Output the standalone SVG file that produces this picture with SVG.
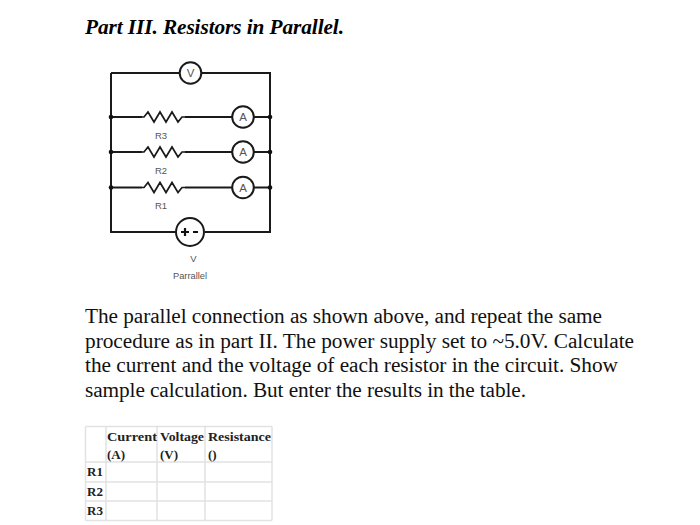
<svg xmlns="http://www.w3.org/2000/svg" width="700" height="525" viewBox="0 0 700 525">
<style>
.w{fill:none;stroke:#1a1a1a;stroke-width:2}
.r{fill:none;stroke:#1a1a1a;stroke-width:1.7;stroke-linejoin:miter}
.c{fill:#fff;stroke:#1a1a1a;stroke-width:2}
.d{fill:#111}
.l{font-family:"Liberation Sans",Arial,sans-serif;font-size:9.500px;fill:#555;text-anchor:middle}
.s{font-family:"Liberation Sans",Arial,sans-serif;font-size:11.500px;fill:#555;text-anchor:middle}
.b{font-family:"Liberation Serif","Times New Roman",serif;font-size:21.300px;fill:#111}
.t{font-family:"Liberation Serif","Times New Roman",serif;font-size:13px;font-weight:bold;fill:#222}
.g{stroke:#e2e2e2;stroke-width:1.5;fill:none}
</style>
<rect width="700" height="525" fill="#fff"/>
<text x="85" y="34" font-family="Liberation Serif, Times New Roman, serif" font-size="21.300" font-weight="bold" font-style="italic" fill="#000" textLength="259" lengthAdjust="spacing">Part III. Resistors in Parallel.</text>
<g id="connectors">
<path class="w" d="M111 73H179M202 73H270V232H205M176 232H111V73"/>
<path class="w" d="M111 117H142M185 117H232M254 117H270"/>
<path class="w" d="M111 152H142M185 152H232M254 152H270"/>
<path class="w" d="M111 187.500H142M185 187.500H232M254 187.500H270"/>
<path class="r" d="M142 117H144L148 112L154 122L160 112L166 122L172 112L178 122L182 117H185"/>
<path class="r" d="M142 152H144L148 147L154 157L160 147L166 157L172 147L178 157L182 152H185"/>
<path class="r" d="M142 187.500H144L148 182.500L154 192.500L160 182.500L166 192.500L172 182.500L178 192.500L182 187.500H185"/>
<circle class="d" cx="111" cy="117" r="2.300"/><circle class="d" cx="270" cy="117" r="2.300"/>
<circle class="d" cx="111" cy="152" r="2.300"/><circle class="d" cx="270" cy="152" r="2.300"/>
<circle class="d" cx="111" cy="187.500" r="2.300"/><circle class="d" cx="270" cy="187.500" r="2.300"/>
</g>
<g id="voltmeter"><circle class="c" cx="190.500" cy="73" r="10.800"/><text class="s" x="190.500" y="77">V</text></g>
<g id="ammeter3"><circle class="c" cx="243" cy="117" r="10.800"/><text class="s" x="243" y="121">A</text></g>
<g id="ammeter2"><circle class="c" cx="243" cy="152" r="10.800"/><text class="s" x="243" y="156">A</text></g>
<g id="ammeter1"><circle class="c" cx="243" cy="187.500" r="10.800"/><text class="s" x="243" y="191.500">A</text></g>
<g id="r3"><text class="l" x="161" y="139">R3</text></g>
<g id="r2"><text class="l" x="161" y="174">R2</text></g>
<g id="r1"><text class="l" x="161" y="209">R1</text></g>
<g id="supply"><circle class="c" cx="190" cy="232" r="14"/>
<path d="M181 232H189M185 228V236M193 232H198" stroke="#111" stroke-width="2.200" fill="none"/>
<text class="l" x="193.500" y="262">V</text></g>
<text class="l" x="190" y="279" textLength="34" lengthAdjust="spacingAndGlyphs">Parrallel</text>
<g id="paragraph">
<text class="b" x="85" y="323" textLength="517">The parallel connection as shown above, and repeat the same</text>
<text class="b" x="85" y="348" textLength="549">procedure as in part II. The power supply set to ~5.0V. Calculate</text>
<text class="b" x="85" y="372" textLength="533">the current and the voltage of each resistor in the circuit. Show</text>
<text class="b" x="85" y="397" textLength="441">sample calculation. But enter the results in the table.</text>
</g>
<g id="table">
<path class="g" d="M85.500 426.500H272M85.500 462H272M85.500 482H272M85.500 501H272M85.500 520.500H272M85.500 426.500V520.500M106 426.500V520.500M157 426.500V520.500M205 426.500V520.500M272 426.500V520.500"/>
<text class="t" x="107" y="441" textLength="50" lengthAdjust="spacingAndGlyphs">Current</text><text class="t" x="160" y="441" textLength="44" lengthAdjust="spacingAndGlyphs">Voltage</text><text class="t" x="208" y="441" textLength="63" lengthAdjust="spacingAndGlyphs">Resistance</text>
<text class="t" x="107" y="459">(A)</text><text class="t" x="160" y="459">(V)</text><text class="t" x="208" y="459">()</text>
<text class="t" x="87" y="476">R1</text><text class="t" x="87" y="496">R2</text><text class="t" x="87" y="515">R3</text>
</g>
</svg>
